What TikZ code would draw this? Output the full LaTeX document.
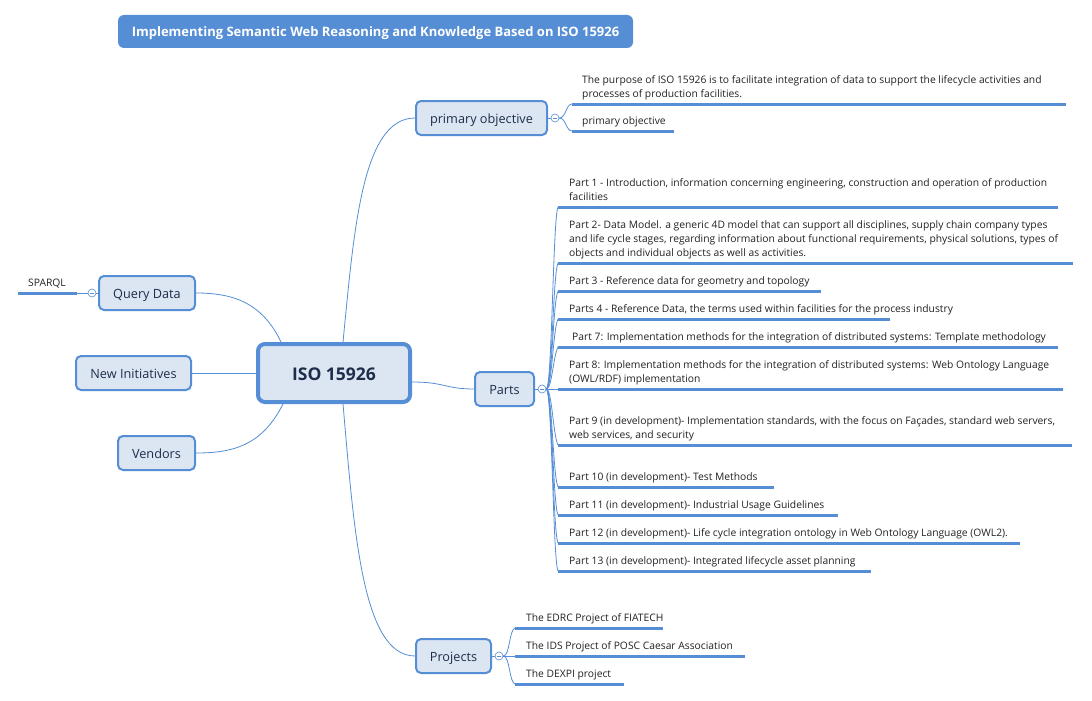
\documentclass[tikz,border=0pt]{standalone}
\usepackage{fontspec}
\setmainfont{Open Sans}
\definecolor{lb}{HTML}{558ED5}
\definecolor{bf}{HTML}{DCE6F2}
\definecolor{bt}{HTML}{1E2D4B}
\definecolor{lt}{HTML}{222222}
\newcommand\lines[1]{\begin{tabular}[t]{@{}l@{}}#1\end{tabular}}
\begin{document}
\begin{tikzpicture}[x=1pt,y=-1pt,
 conn/.style={draw=lb, line width=0.8pt},
 under/.style={draw=lb, line width=3pt},
 topic/.style={draw=lb, line width=2pt, fill=bf, rounded corners=5pt, text=bt,
   font=\fontsize{12.7}{15}\selectfont, inner sep=0pt, minimum height=34pt,
   text height=11pt, text depth=0pt},
 leaf/.style={inner sep=0pt, anchor=base west, text=lt, font=\fontsize{10.3}{14}\selectfont},
 fold/.style={circle, draw=lb, fill=white, line width=0.6pt, minimum size=8pt, inner sep=0pt,
   path picture={\draw[lb, line width=0.6pt] ([xshift=-2pt]path picture bounding box.center) -- ([xshift=2pt]path picture bounding box.center);}},
]
\fill[white] (0,0) rectangle (1092,701);
\useasboundingbox (0,0) rectangle (1092,701);

% title
\node[fill=lb, rounded corners=6pt, minimum width=515pt, minimum height=33pt, inner sep=0pt,
  text height=10pt, text depth=0pt,
  text=white, font=\bfseries\fontsize{13}{15}\selectfont] (title) at (375.5,31.5)
  {Implementing Semantic Web Reasoning and Knowledge Based on ISO 15926};

% main topics
\node[topic, line width=4pt, rounded corners=7pt, minimum width=152pt, minimum height=58pt,
  text height=14.5pt, text depth=0pt,
  font=\bfseries\fontsize{17.5}{20}\selectfont] (iso) at (334,373) {ISO 15926};
\node[topic, minimum width=96pt] (query) at (147,293) {Query Data};
\node[topic, minimum width=115pt] (newinit) at (133.5,373) {New Initiatives};
\node[topic, minimum width=77pt] (vendors) at (156.5,453) {Vendors};
\node[topic, minimum width=131pt] (prim) at (481.5,118) {primary objective};
\node[topic, minimum width=59pt] (parts) at (504.5,389) {Parts};
\node[topic, minimum width=75pt] (projects) at (453.5,656) {Projects};

% connectors from centre
\draw[conn] (281,342) .. controls (262,302) and (232,293) .. (query.east);
\draw[conn] (iso.west |- newinit.east) -- (newinit.east);
\draw[conn] (283,404) .. controls (262,446) and (232,453) .. (vendors.east);
\draw[conn] (343,342) .. controls (354,230) and (362,118) .. (prim.west);
\draw[conn] (412,382) .. controls (445,382) and (445,389) .. (parts.west);
\draw[conn] (343,404) .. controls (354,530) and (362,656) .. (projects.west);

% fold markers
\node[fold] (f0) at (92,293) {};
\node[fold] (f1) at (555,118) {};
\node[fold] (f2) at (542,389) {};
\node[fold] (f3) at (499,656) {};
\draw[conn] (query.west) -- (f0.east);
\draw[conn] (prim.east) -- (f1.west);
\draw[conn] (parts.east) -- (f2.west);
\draw[conn] (projects.east) -- (f3.west);

% SPARQL
\coordinate (s1s) at (77,293); \coordinate (s1e) at (18,293);
\draw[conn] (f0.west) -- (s1s);
\draw[under] (s1s) -- (s1e);
\node[leaf] (s1) at (28,286) {SPARQL};

% primary objective children
\coordinate (a1s) at (572,104); \coordinate (a1e) at (1066,104);
\coordinate (a2s) at (572,131); \coordinate (a2e) at (674,131);
\draw[conn] (f1.east) .. controls (566,118) and (566,104) .. (a1s);
\draw[conn] (f1.east) .. controls (566,118) and (566,131) .. (a2s);
\draw[under] (a1s) -- (a1e);
\draw[under] (a2s) -- (a2e);
\node[leaf] (a1) at (582,83) {\lines{The purpose of ISO 15926 is to facilitate integration of data to support the lifecycle activities and\\processes of production facilities.}};
\node[leaf] (a2) at (582,124) {primary objective};

% parts children
\foreach \n/\y/\e in {p1/207/1058, p2/263/1073, p3/291/821, p4/319/890, p7/347/1058,
  p8/389/1063, p9/445/1072, p10/487/774, p11/515/838, p12/543/1020, p13/571/871}{
  \coordinate (\n s) at (558,\y);
  \coordinate (\n e) at (\e,\y);
}
\foreach \n/\y in {p1/207, p2/263, p3/291, p4/319, p7/347}{
  \draw[conn] (f2.east) .. controls (552,389) and (553,\y+10) .. (\n s);
}
\draw[conn] (f2.east) -- (p8s);
\foreach \n/\y in {p9/445, p10/487, p11/515, p12/543, p13/571}{
  \draw[conn] (f2.east) .. controls (552,389) and (553,\y-10) .. (\n s);
}
\foreach \n in {p1,p2,p3,p4,p7,p8,p9,p10,p11,p12,p13}{
  \draw[under] (\n s) -- (\n e);
}
\node[leaf] (p1) at (569,186) {\lines{Part 1 - Introduction, information concerning engineering, construction and operation of production\\facilities}};
\node[leaf] (p2) at (569,228) {\lines{Part 2- Data Model. a generic 4D model that can support all disciplines, supply chain company types\\and life cycle stages, regarding information about functional requirements, physical solutions, types of\\objects and individual objects as well as activities.}};
\node[leaf] (p3) at (569,284) {Part 3 - Reference data for geometry and topology};
\node[leaf] (p4) at (569,312) {Parts 4 - Reference Data, the terms used within facilities for the process industry};
\node[leaf] (p7) at (572,340) {Part 7: Implementation methods for the integration of distributed systems: Template methodology};
\node[leaf] (p8) at (569,368) {\lines{Part 8: Implementation methods for the integration of distributed systems: Web Ontology Language\\(OWL/RDF) implementation}};
\node[leaf] (p9) at (569,424) {\lines{Part 9 (in development)- Implementation standards, with the focus on Façades, standard web servers,\\web services, and security}};
\node[leaf] (p10) at (569,480) {Part 10 (in development)- Test Methods};
\node[leaf] (p11) at (569,508) {Part 11 (in development)- Industrial Usage Guidelines};
\node[leaf] (p12) at (569,536) {Part 12 (in development)- Life cycle integration ontology in Web Ontology Language (OWL2).};
\node[leaf] (p13) at (569,564) {Part 13 (in development)- Integrated lifecycle asset planning};

% projects children
\coordinate (j1s) at (515,628); \coordinate (j1e) at (663,628);
\coordinate (j2s) at (515,656); \coordinate (j2e) at (745,656);
\coordinate (j3s) at (515,684); \coordinate (j3e) at (624,684);
\draw[conn] (f3.east) .. controls (510,656) and (509,630) .. (j1s);
\draw[conn] (f3.east) -- (j2s);
\draw[conn] (f3.east) .. controls (510,656) and (509,682) .. (j3s);
\draw[under] (j1s) -- (j1e);
\draw[under] (j2s) -- (j2e);
\draw[under] (j3s) -- (j3e);
\node[leaf] (j1) at (526,621) {The EDRC Project of FIATECH};
\node[leaf] (j2) at (526,649) {The IDS Project of POSC Caesar Association};
\node[leaf] (j3) at (526,677) {The DEXPI project};
\end{tikzpicture}
\end{document}
